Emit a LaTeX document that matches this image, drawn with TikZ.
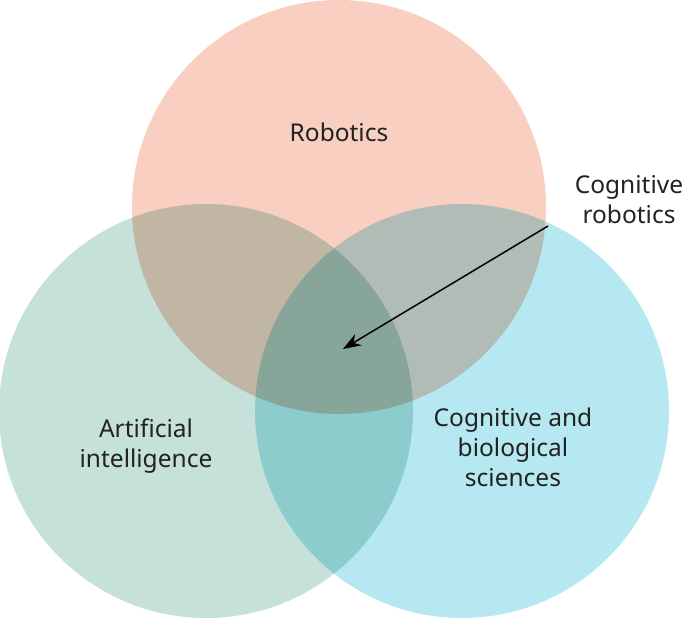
\documentclass[tikz,border=0pt]{standalone}
\usepackage{fontspec}
\setmainfont{Noto Sans}
\usetikzlibrary{arrows.meta}
\definecolor{cTop}{HTML}{F8CFC0}
\definecolor{cLeft}{HTML}{C6E1D9}
\definecolor{cRight}{HTML}{B5E8F1}
\definecolor{txt}{HTML}{222222}
\tikzset{venn/.style={draw=none},
  lbl/.style={text=txt, font=\fontsize{24.5}{30}\selectfont, align=center}}
\begin{document}
\begin{tikzpicture}[x=1pt,y=-1pt]
\useasboundingbox (0,0) rectangle (685,618);
\begin{scope}[blend group=multiply]
\fill[venn, fill=cTop] (339,207) circle (207);
\fill[venn, fill=cLeft] (206,411) circle (207);
\fill[venn, fill=cRight] (462,411) circle (207);
\end{scope}
\node[lbl] (rob) at (339,132) {Robotics};
\node[lbl] (ai) at (146,446) {Artificial\\intelligence};
\node[lbl] (cbs) at (513,447) {Cognitive and\\biological\\sciences};
\node[lbl] (cr) at (629,200) {Cognitive\\robotics};
\coordinate (tip) at (343,349);
\draw[-{Stealth[length=18pt,width=13pt]}, line width=1.5pt, black] (548,226) -- (tip);
\end{tikzpicture}
\end{document}
